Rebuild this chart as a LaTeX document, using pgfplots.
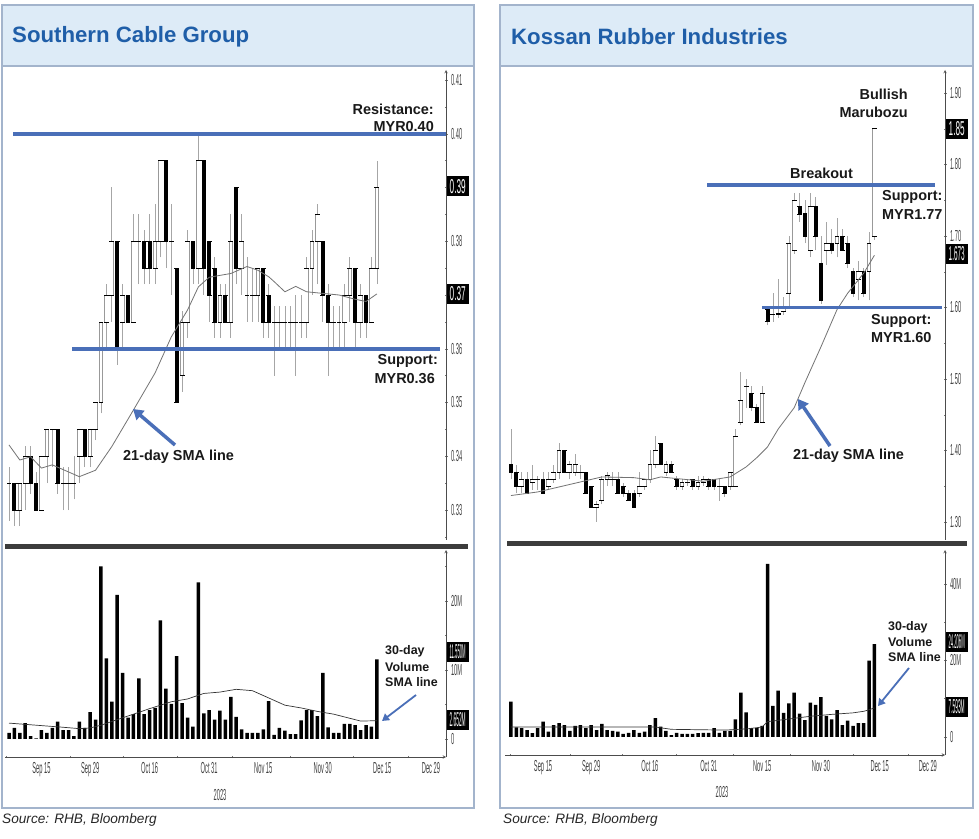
\documentclass[border=0pt]{standalone}
\usepackage{pgfplots}
\pgfplotsset{compat=1.18}
\usepackage{pgfplotstable}
\usepackage{fontspec}
\setmainfont{Liberation Sans}
\usepackage{graphicx}
\usetikzlibrary{arrows.meta}
\definecolor{tblue}{HTML}{1F5EA8}
\definecolor{lblue}{HTML}{4A6FB8}
\definecolor{barbg}{HTML}{DDEBF7}
\definecolor{pborder}{HTML}{A3B4CC}
\definecolor{sep}{HTML}{3C3C3C}
\newcommand\sq[1]{\scalebox{0.36}[1]{#1}}
\newcommand\bx[1]{\resizebox{16bp}{14bp}{#1}}

\pgfplotstableread{
i o h l c v
0 0.335 0.338 0.328 0.335 0.9
1 0.335 0.335 0.327 0.330 1.6
2 0.330 0.335 0.327 0.335 0.9
3 0.335 0.342 0.330 0.340 2.3
4 0.340 0.342 0.333 0.335 0.4
5 0.335 0.337 0.330 0.330 0.1
6 0.330 0.340 0.330 0.340 1.3
7 0.340 0.345 0.335 0.345 0.9
8 0.345 0.345 0.338 0.345 1.6
9 0.345 0.345 0.333 0.335 2.5
10 0.335 0.338 0.330 0.335 1.3
11 0.335 0.338 0.330 0.335 1.3
12 0.335 0.340 0.332 0.335 0.4
13 0.340 0.345 0.335 0.345 2.5
14 0.345 0.345 0.338 0.340 1.6
15 0.340 0.345 0.338 0.345 3.9
16 0.345 0.350 0.343 0.350 2.8
17 0.350 0.365 0.348 0.365 25.0
18 0.365 0.372 0.360 0.370 11.7
19 0.370 0.390 0.365 0.380 5.4
20 0.380 0.380 0.357 0.360 20.9
21 0.365 0.372 0.360 0.370 9.6
22 0.370 0.370 0.365 0.365 3.1
23 0.365 0.385 0.365 0.380 3.6
24 0.380 0.385 0.372 0.380 8.8
25 0.380 0.382 0.372 0.375 3.6
26 0.380 0.385 0.372 0.375 4.2
27 0.375 0.387 0.372 0.380 4.5
28 0.380 0.395 0.377 0.395 17.2
29 0.395 0.395 0.375 0.380 7.3
30 0.380 0.387 0.370 0.380 5.1
31 0.375 0.375 0.350 0.350 12.0
32 0.355 0.367 0.352 0.365 5.2
33 0.365 0.382 0.362 0.380 3.1
34 0.380 0.380 0.372 0.375 1.8
35 0.375 0.400 0.372 0.395 22.7
36 0.395 0.395 0.370 0.375 3.7
37 0.380 0.380 0.365 0.370 4.2
38 0.375 0.377 0.362 0.365 2.8
39 0.365 0.372 0.362 0.370 4.1
40 0.370 0.372 0.365 0.365 2.8
41 0.365 0.385 0.362 0.380 6.1
42 0.390 0.390 0.372 0.375 3.2
43 0.375 0.385 0.370 0.380 1.4
44 0.370 0.377 0.365 0.370 0.9
45 0.370 0.375 0.365 0.370 0.9
46 0.370 0.375 0.365 0.375 0.9
47 0.375 0.375 0.362 0.365 1.4
48 0.370 0.372 0.362 0.365 5.5
49 0.365 0.368 0.355 0.365 0.6
50 0.365 0.368 0.360 0.365 1.6
51 0.365 0.368 0.360 0.365 1.2
52 0.365 0.368 0.360 0.365 0.7
53 0.365 0.370 0.355 0.365 0.7
54 0.365 0.370 0.362 0.365 2.7
55 0.365 0.377 0.362 0.375 4.2
56 0.375 0.382 0.370 0.380 4.2
57 0.380 0.387 0.372 0.385 3.3
58 0.380 0.380 0.365 0.370 9.6
59 0.370 0.372 0.355 0.365 1.7
60 0.365 0.368 0.360 0.365 0.9
61 0.365 0.368 0.360 0.365 0.9
62 0.365 0.372 0.360 0.370 2.2
63 0.370 0.377 0.365 0.375 2.2
64 0.375 0.375 0.360 0.365 2.0
65 0.365 0.372 0.362 0.370 1.3
66 0.370 0.370 0.362 0.365 2.0
67 0.365 0.377 0.365 0.375 1.8
68 0.375 0.395 0.372 0.390 11.55
}\scg

\pgfplotstableread{
i o h l c v
0 1.38 1.43 1.36 1.37 9.2
1 1.37 1.38 1.34 1.35 2.5
2 1.35 1.37 1.34 1.36 2.3
3 1.36 1.37 1.34 1.34 1.8
4 1.355 1.38 1.345 1.36 1.0
5 1.36 1.365 1.345 1.36 2.3
6 1.36 1.37 1.34 1.34 4.0
7 1.35 1.37 1.345 1.36 1.4
8 1.36 1.38 1.355 1.37 3.1
9 1.37 1.41 1.36 1.40 3.6
10 1.40 1.40 1.37 1.37 3.1
11 1.37 1.385 1.36 1.38 1.6
12 1.37 1.395 1.365 1.38 2.9
13 1.37 1.38 1.36 1.37 3.1
14 1.37 1.37 1.34 1.34 2.3
15 1.35 1.35 1.32 1.32 3.1
16 1.32 1.33 1.30 1.325 1.8
17 1.33 1.365 1.325 1.36 3.4
18 1.36 1.37 1.35 1.365 1.8
19 1.36 1.37 1.35 1.36 1.6
20 1.36 1.37 1.34 1.34 1.4
21 1.35 1.355 1.335 1.34 0.8
22 1.34 1.345 1.33 1.33 1.1
23 1.34 1.345 1.32 1.32 1.8
24 1.34 1.37 1.335 1.35 1.1
25 1.35 1.36 1.345 1.36 1.4
26 1.36 1.40 1.355 1.38 3.1
27 1.38 1.42 1.375 1.40 4.9
28 1.41 1.41 1.38 1.38 2.7
29 1.37 1.385 1.365 1.38 1.6
30 1.38 1.385 1.37 1.37 0.5
31 1.36 1.365 1.345 1.35 1.1
32 1.35 1.36 1.345 1.355 0.8
33 1.355 1.36 1.35 1.355 0.8
34 1.36 1.36 1.345 1.35 0.8
35 1.35 1.365 1.345 1.355 1.0
36 1.355 1.365 1.35 1.36 1.1
37 1.36 1.362 1.345 1.35 1.1
38 1.36 1.36 1.345 1.35 2.3
39 1.35 1.36 1.33 1.35 1.1
40 1.35 1.35 1.335 1.34 1.6
41 1.35 1.37 1.345 1.37 1.6
42 1.35 1.43 1.35 1.42 4.6
43 1.44 1.51 1.435 1.47 11.6
44 1.49 1.50 1.46 1.49 6.4
45 1.48 1.49 1.455 1.46 2.3
46 1.46 1.465 1.44 1.44 2.3
47 1.44 1.49 1.44 1.48 2.9
48 1.597 1.60 1.575 1.58 45.2
49 1.59 1.62 1.58 1.59 8.1
50 1.59 1.64 1.585 1.592 12.1
51 1.595 1.615 1.59 1.60 6.3
52 1.62 1.70 1.60 1.69 8.8
53 1.68 1.76 1.675 1.75 11.6
54 1.741 1.76 1.72 1.73 6.1
55 1.732 1.75 1.69 1.70 4.4
56 1.68 1.76 1.67 1.741 9.0
57 1.741 1.755 1.68 1.70 8.4
58 1.662 1.70 1.605 1.61 10.4
59 1.68 1.72 1.66 1.69 5.5
60 1.69 1.71 1.675 1.68 4.6
61 1.69 1.725 1.67 1.70 7.0
62 1.70 1.71 1.68 1.68 3.1
63 1.69 1.70 1.655 1.662 4.3
64 1.65 1.655 1.615 1.62 2.9
65 1.64 1.665 1.61 1.65 3.6
66 1.65 1.655 1.615 1.62 3.6
67 1.65 1.705 1.61 1.69 19.9
68 1.70 1.85 1.695 1.85 24.206
}\ksn

\pgfplotsset{
  downc/.style={restrict expr to domain={\thisrow{o}-\thisrow{c}}{0.0001:100}},
  upc/.style={restrict expr to domain={\thisrow{c}-\thisrow{o}}{0:100}},
  nomk/.style={only marks, mark=*, mark size=0.1pt, mark options={draw opacity=0, fill opacity=0}},
  common/.style={scale only axis, anchor=south west,
    axis line style={-, black!70, line width=0.5bp},
    tick label style={font=\fontsize{16}{16}\selectfont, text=black!75},
    tick style={black!55, line width=0.4bp}, major tick length=3bp, minor tick length=2bp,
    /pgf/number format/assume math mode=true},
  datex/.style={xtick={6,15,26,37,47,58,69,78},
    xticklabels={\sq{Sep 15},\sq{Sep 29},\sq{Oct 16},\sq{Oct 31},\sq{Nov 15},\sq{Nov 30},\sq{Dec 15},\sq{Dec 29}},
    major x tick style={draw=none}, xticklabel style={yshift=-0.5bp}},
}

\newcommand\candles[1]{%
  \addplot[nomk, error bars/.cd, y dir=plus, y explicit, error mark=none,
    error bar style={black!35, line width=0.7bp}]
    table[x=i, y=l, y error plus expr=\thisrow{h}-\thisrow{l}] {#1};
  \addplot[upc, nomk, error bars/.cd, y dir=plus, y explicit, error mark=none,
    error bar style={black!40, line width=4bp}]
    table[x=i, y=o, y error plus expr=\thisrow{c}-\thisrow{o}] {#1};
  \addplot[upc, nomk, error bars/.cd, y dir=plus, y explicit, error mark=none,
    error bar style={white, line width=2.6bp}]
    table[x=i, y=o, y error plus expr=\thisrow{c}-\thisrow{o}] {#1};
  \addplot[downc, nomk, error bars/.cd, y dir=plus, y explicit, error mark=none,
    error bar style={black, line width=4bp}]
    table[x=i, y=c, y error plus expr=\thisrow{o}-\thisrow{c}] {#1};
  \addplot[nomk, error bars/.cd, x dir=both, x fixed=0.45, error mark=none,
    error bar style={black, line width=0.7bp}] table[x=i, y=o] {#1};
  \addplot[nomk, error bars/.cd, x dir=both, x fixed=0.45, error mark=none,
    error bar style={black, line width=0.7bp}] table[x=i, y=c] {#1};
}

\begin{document}
\begin{tikzpicture}
\useasboundingbox (0,0) rectangle (979bp,839bp);
% panels
\foreach \xa/\xb in {2/474, 500/973}{
  \fill[white] (\xa bp,31bp) rectangle (\xb bp,834bp);
  \fill[barbg] (\xa bp,773bp) rectangle (\xb bp,834bp);
  \draw[pborder, line width=1.1bp] (\xa bp,31bp) rectangle (\xb bp,834bp);
  \draw[pborder, line width=1.1bp] (\xa bp,773bp) -- (\xb bp,773bp);
}
\node[anchor=west, text=tblue, font=\fontsize{22.3}{26}\selectfont\bfseries, inner sep=0] at (12bp,802bp) {Southern Cable Group};
\node[anchor=west, text=tblue, font=\fontsize{22.3}{26}\selectfont\bfseries, inner sep=0] at (511bp,802bp) {Kossan Rubber Industries};
\node[anchor=west, font=\fontsize{13.7}{15}\selectfont\itshape, text=black!85, inner sep=0] at (2bp,19bp) {Source: RHB, Bloomberg};
\node[anchor=west, font=\fontsize{13.7}{15}\selectfont\itshape, text=black!85, inner sep=0] at (503bp,19bp) {Source: RHB, Bloomberg};

% ===== Left price =====
\begin{axis}[common, at={(5bp,299bp)}, width=441bp, height=470bp,
  xmin=-0.74, xmax=80.78, ymin=0.32442, ymax=0.41186,
  axis x line=none, axis y line=right,
  ytick={0.33,0.34,0.35,0.36,0.37,0.38,0.39,0.40,0.41},
  yticklabels={\sq{0.33},\sq{0.34},\sq{0.35},\sq{0.36},{},\sq{0.38},{},\sq{0.40},\sq{0.41}},
  minor ytick={0.325,0.335,0.345,0.355,0.365,0.375,0.385,0.395,0.405}]
\candles{\scg}
\addplot[black!55, line width=0.8bp] coordinates {(0,0.3421) (2,0.3393) (4,0.3399) (6,0.3378) (8,0.3384) (13,0.3362) (16,0.3374) (19,0.3418) (23,0.3486) (27,0.3555) (30,0.3622) (33,0.3672) (35,0.3715) (37,0.3733) (41,0.3740) (44,0.3753) (46,0.3746) (48,0.3734) (49,0.3725) (51,0.3706) (53,0.3716) (55,0.3706) (58,0.3703) (61,0.3700) (64,0.3692) (66,0.3688) (68,0.3702)};
\addplot[lblue, line width=3.8bp] coordinates {(0.74,0.40) (80.78,0.40)};
\addplot[lblue, line width=3.8bp] coordinates {(11.65,0.36) (79.7,0.36)};
\end{axis}

% ===== Left volume =====
\begin{axis}[common, at={(5bp,82bp)}, width=441bp, height=207bp,
  xmin=-0.74, xmax=80.78, ymin=-2.61, ymax=27.39,
  axis x line=bottom, axis y line=right, datex,
  minor xtick={-0.55,11.3,21.1,31.1,41.2,51.9,63.6,73.8},
  ytick={0,10,20}, yticklabels={\sq{0},\sq{10M},\sq{20M}}, minor ytick={5,15,25}]
\addplot[ybar, bar width=3.5bp, fill=black, draw=none] table[x=i, y=v] {\scg};
\addplot[black!80, line width=0.7bp] coordinates {(0,2.3) (5,2.0) (10,1.7) (13,1.5) (15,1.6) (17,2.0) (20,2.8) (23,3.6) (26,4.4) (30,5.4) (33,5.8) (36,6.6) (39,6.8) (42,7.2) (45,7.0) (47,6.3) (49,5.6) (51,4.9) (54,4.5) (57,4.0) (60,3.6) (63,3.0) (65,2.6) (68,2.65)};
\end{axis}

% ===== Right price =====
\begin{axis}[common, at={(505bp,299bp)}, width=440bp, height=470bp,
  xmin=-1.12, xmax=81.21, ymin=1.2748, ymax=1.9322,
  axis x line=none, axis y line=right,
  ytick={1.3,1.4,1.5,1.6,1.7,1.8,1.9},
  yticklabels={\sq{1.30},\sq{1.40},\sq{1.50},\sq{1.60},\sq{1.70},\sq{1.80},\sq{1.90}},
  minor ytick={1.35,1.45,1.55,1.65,1.75,1.85}]
\candles{\ksn}
\addplot[black!55, line width=0.8bp] coordinates {(0,1.337) (5,1.342) (13,1.356) (17,1.363) (23,1.362) (26,1.359) (28,1.363) (32,1.360) (36,1.357) (41,1.363) (44,1.377) (46,1.390) (48,1.405) (50,1.430) (53,1.460) (55,1.495) (58,1.545) (61,1.597) (63,1.620) (66,1.648) (68,1.673)};
\addplot[lblue, line width=3.8bp] coordinates {(36.68,1.7713) (79.34,1.7713)};
\addplot[lblue, line width=3.8bp] coordinates {(46.97,1.60) (80.65,1.60)};
\end{axis}

% ===== Right volume =====
\begin{axis}[common, at={(505bp,84bp)}, width=440bp, height=205bp,
  xmin=-1.12, xmax=81.21, ymin=-4.70, ymax=48.8,
  axis x line=bottom, axis y line=right, datex,
  minor xtick={-0.2,11.0,20.9,31.0,41.5,52.2,64.0,74.3},
  ytick={0,20,40}, yticklabels={\sq{0},\sq{20M},\sq{40M}}, minor ytick={10,30}]
\addplot[ybar, bar width=3.5bp, fill=black, draw=none] table[x=i, y=v] {\ksn};
\addplot[black!80, line width=0.7bp] coordinates {(0,2.6) (10,2.6) (20,2.6) (27,2.6) (30,2.0) (35,1.9) (40,1.8) (44,2.1) (47,2.6) (48,4.0) (52,4.7) (56,5.4) (60,5.9) (64,6.3) (66,6.7) (67,7.1) (68,7.6)};
\end{axis}

% separators
\fill[sep] (5bp,290bp) rectangle (468bp,294.5bp);
\fill[sep] (507bp,293bp) rectangle (967bp,297.5bp);

% value boxes
\tikzset{vbox/.style={anchor=west, fill=black, text=white, minimum width=22bp, minimum height=20bp, inner sep=0}}
\node[vbox] at (446.5bp,652.5bp) {\bx{0.39}};
\node[vbox] at (446.5bp,545bp) {\bx{0.37}};
\node[vbox] at (446.5bp,187bp) {\bx{11.550M}};
\node[vbox] at (446.5bp,119bp) {\bx{2.652M}};
\node[vbox] at (945.5bp,710bp) {\bx{1.85}};
\node[vbox] at (945.5bp,585bp) {\bx{1.673}};
\node[vbox] at (945.5bp,197bp) {\bx{24.206M}};
\node[vbox] at (945.5bp,132bp) {\bx{7.593M}};

% year labels
\node[font=\fontsize{16}{16}\selectfont, text=black!75] at (220bp,44bp) {\sq{2023}};
\node[font=\fontsize{16}{16}\selectfont, text=black!75] at (722bp,47bp) {\sq{2023}};

% annotations
\tikzset{ann/.style={font=\fontsize{14.5}{17.7}\selectfont\bfseries, inner sep=0, text=black!90},
         ann2/.style={font=\fontsize{12.5}{15}\selectfont\bfseries, inner sep=0, text=black!90}}
\node[ann, anchor=east] at (434bp,730bp) {Resistance:};
\node[ann, anchor=east] at (434bp,712bp) {MYR0.40};
\node[ann, anchor=east] at (438bp,478bp) {Support:};
\node[ann, anchor=east] at (435bp,460bp) {MYR0.36};
\node[ann, anchor=west] at (123bp,382bp) {21-day SMA line};
\draw[lblue, line width=3.5bp, -{Triangle[length=10bp, width=12bp]}] (175bp,394bp) -- (133bp,430bp);
\node[ann2, anchor=west] at (385bp,187.3bp) {30-day};
\node[ann2, anchor=west] at (385bp,172.3bp) {Volume};
\node[ann2, anchor=west] at (385bp,156.7bp) {SMA line};
\draw[lblue, line width=1.8bp, -{Triangle[length=7bp, width=8bp]}] (416bp,144bp) -- (382bp,118bp);

\node[ann, anchor=east] at (908bp,744.7bp) {Bullish};
\node[ann, anchor=east] at (908bp,726.3bp) {Marubozu};
\node[ann, anchor=west] at (790bp,665.7bp) {Breakout};
\node[ann, anchor=west] at (882bp,642.3bp) {Support:};
\node[ann, anchor=west] at (882bp,624.7bp) {MYR1.77};
\node[ann, anchor=west] at (871bp,518bp) {Support:};
\node[ann, anchor=west] at (871bp,501.3bp) {MYR1.60};
\node[ann, anchor=west] at (793bp,383.3bp) {21-day SMA line};
\draw[lblue, line width=3.5bp, -{Triangle[length=10bp, width=12bp]}] (830bp,393bp) -- (798bp,440bp);
\node[ann2, anchor=west] at (888bp,211.7bp) {30-day};
\node[ann2, anchor=west] at (888bp,196.7bp) {Volume};
\node[ann2, anchor=west] at (888bp,181.7bp) {SMA line};
\draw[lblue, line width=1.8bp, -{Triangle[length=7bp, width=8bp]}] (909bp,171bp) -- (878bp,133bp);
\end{tikzpicture}
\end{document}
